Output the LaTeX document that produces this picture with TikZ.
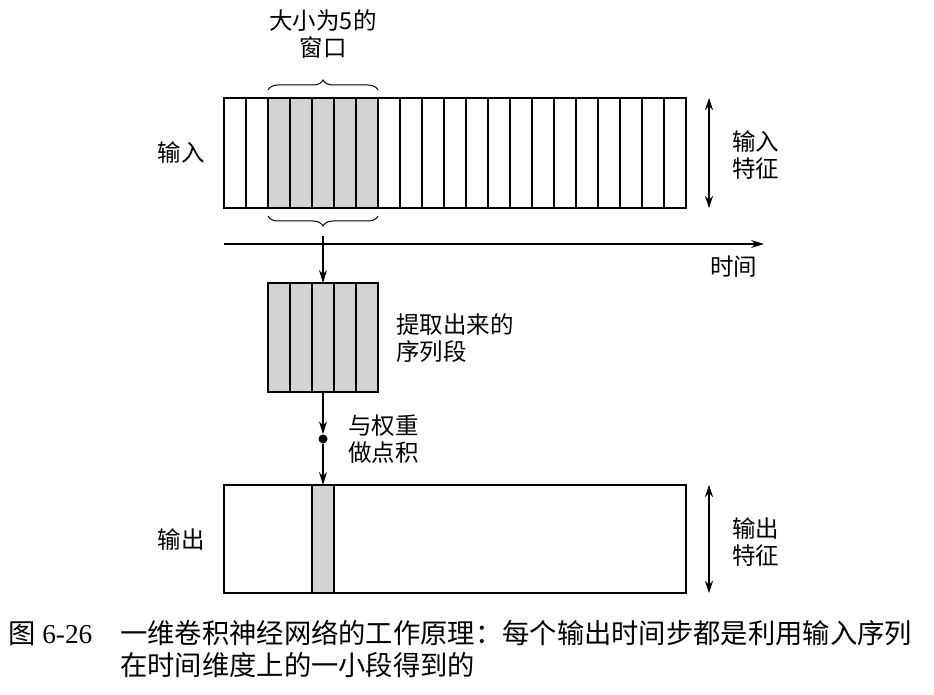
\documentclass[tikz,border=0pt]{standalone}
\usepackage{fontspec}
\setmainfont{Liberation Serif}
\newfontfamily\cjk{Noto Sans CJK SC}
\usetikzlibrary{decorations.pathreplacing,arrows.meta}
\definecolor{cellgray}{RGB}{210,211,213}
\begin{document}
\begin{tikzpicture}[x=1pt,y=-1pt,
  lbl/.style={font=\cjk\fontsize{23.5}{27}\selectfont,align=left,inner sep=0pt},
  box/.style={draw,line width=1.3pt},
  cell/.style={draw,line width=1.3pt,fill=cellgray},
  arr/.style={line width=1.2pt,-{Stealth[length=13pt,width=8pt]}},
  darr/.style={line width=1.2pt,{Stealth[length=12pt,width=8pt]}-{Stealth[length=12pt,width=8pt]}},
  brc/.style={decorate,decoration={brace,amplitude=10pt},line width=1pt}]
\useasboundingbox (0,0) rectangle (934,695);
% input
\foreach \i in {0,...,20}{\draw[box] ({224+22*\i},98) rectangle ({246+22*\i},208);}
\foreach \i in {2,...,6}{\draw[cell] ({224+22*\i},98) rectangle ({246+22*\i},208);}
\draw[brc] (268,90) -- (378,90);
\draw[brc] (378,216) -- (268,216);
\coordinate (bt) at (323,236);
\node[lbl,align=center] (win) at (323,34) {大小为5的\\窗口};
\node[lbl] (in) at (181,153) {输入};
\draw[darr] (709,98) -- (709,208);
\node[lbl,anchor=west] (inf) at (732,155) {输入\\特征};
% axis
\coordinate (a0) at (224,244);
\coordinate (a1) at (764,244);
\draw[arr] (a0) -- (a1);
\node[lbl,anchor=west] (time) at (710,267) {时间};
% extracted
\foreach \i in {0,...,4}{\draw[cell] ({268+22*\i},283) rectangle ({290+22*\i},392);}
\coordinate (segtop) at (323,283);
\coordinate (segbot) at (323,392);
\draw[arr] (bt) -- (segtop);
\node[lbl,anchor=west] (seg) at (396,338) {提取出来的\\序列段};
\node[circle,fill,inner sep=0pt,minimum size=9pt] (dot) at (323,439) {};
\draw[arr] (segbot) -- (dot.north);
\coordinate (outtop) at (323,485);
\draw[arr] (dot.south) -- (outtop);
\node[lbl,anchor=west] (dp) at (348,439) {与权重\\做点积};
% output
\draw[box] (224,485) rectangle (686,593);
\draw[cell] (312,485) rectangle (334,593);
\node[lbl] (out) at (181,540) {输出};
\draw[darr] (709,485) -- (709,593);
\node[lbl,anchor=west] (outf) at (732,542) {输出\\特征};
% caption
\node[anchor=west,inner sep=0pt,font=\fontsize{27.3}{32}\selectfont,align=left] (cap) at (8,649)
 {\makebox[112pt][l]{{\cjk 图} 6-26}{\cjk 一维卷积神经网络的工作原理：每个输出时间步都是利用输入序列}\\
 \hspace{112pt}{\cjk 在时间维度上的一小段得到的}};
\end{tikzpicture}
\end{document}
